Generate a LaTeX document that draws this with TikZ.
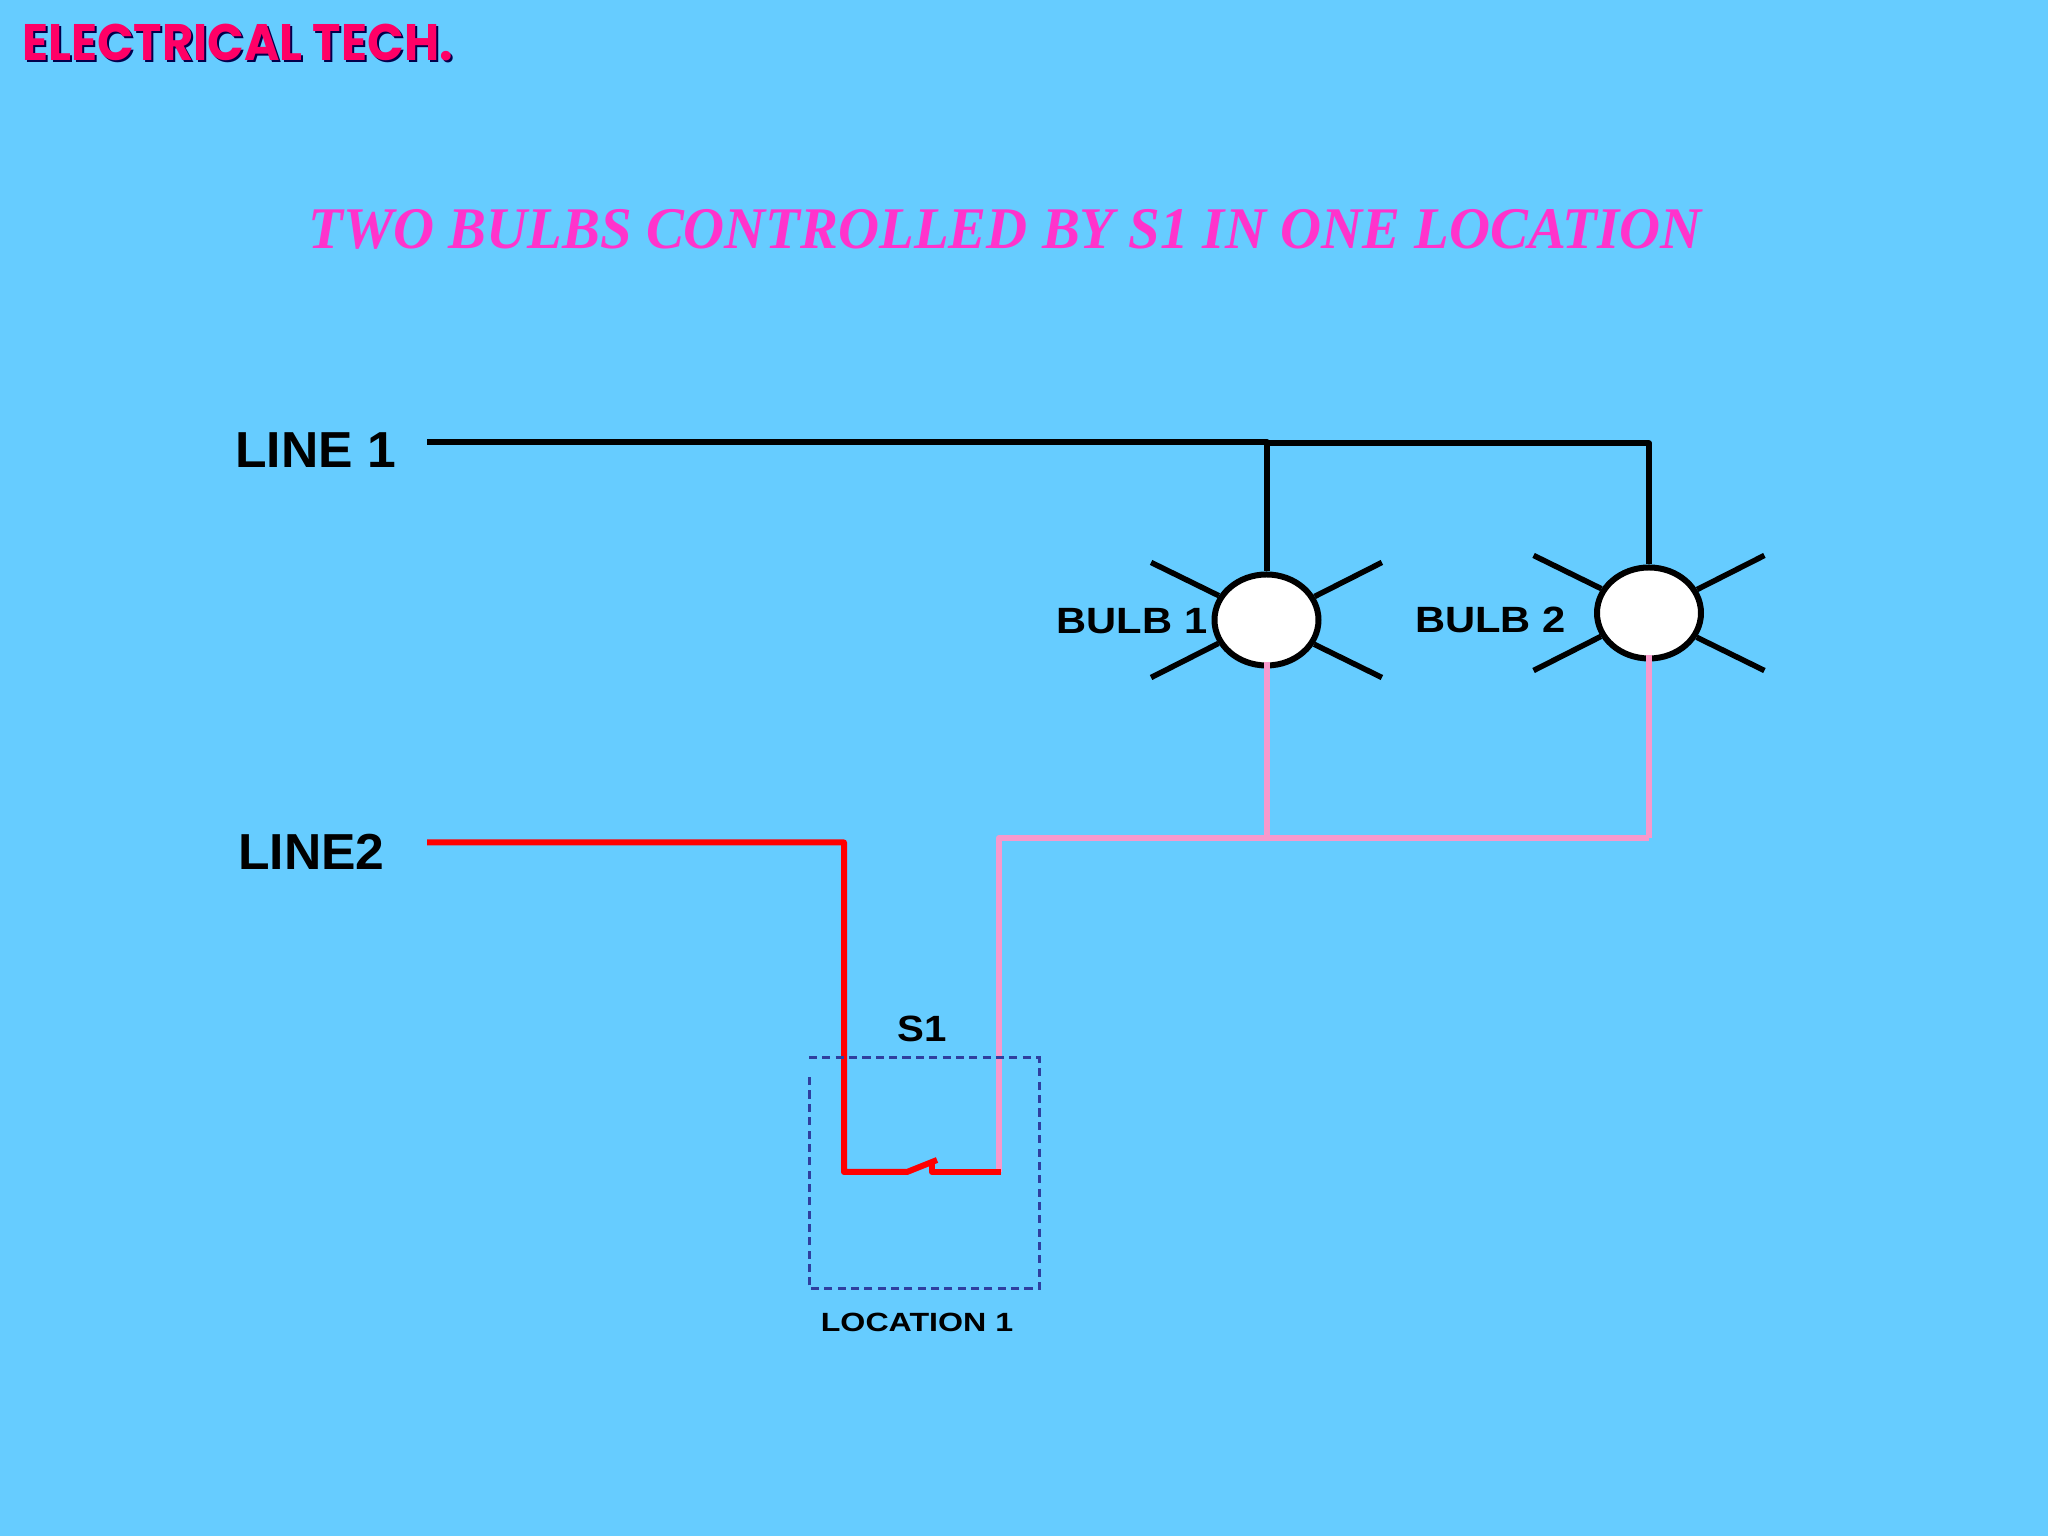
\documentclass[tikz,border=0pt]{standalone}
\usepackage{fontspec}
\setmainfont{Liberation Sans}
\newfontfamily\headfont{Poppins}
\newfontfamily\titlefont{Liberation Serif}
\usetikzlibrary{shapes.geometric, calc}
\definecolor{skybg}{HTML}{66CCFF}
\definecolor{headpink}{HTML}{FF0066}
\definecolor{titlepink}{HTML}{FF33CC}
\definecolor{wirepink}{HTML}{F899CC}
\definecolor{boxblue}{HTML}{2F3F9F}
\tikzset{
	label line/.style = {font = {\bfseries\fontsize{14.4pt}{16}\selectfont}, inner sep = 0pt, transform shape, xscale = 1.02},
	label bulb/.style = {font = {\bfseries\fontsize{10.4pt}{12}\selectfont}, inner sep = 0pt, transform shape, xscale = 1.14},
	label head/.style = {font = {\headfont\bfseries\fontsize{14.6pt}{16}\selectfont}, inner sep = 0pt, transform shape, xscale = 0.937},
	bulb/.style = {draw, ellipse, fill = white, line width = 0.06cm, inner sep = 0pt, minimum width = 1.04cm, minimum height = 0.91cm},
	ray/.style = {line width = 0.055cm},
	black wire/.style = {line width = 0.06cm, line join = round},
	pink wire/.style = {wirepink, line width = 0.06cm, line join = round},
	red wire/.style = {red, line width = 0.06cm, line join = round},
}
\begin{document}
\begin{tikzpicture}
\fill[skybg] (0,0) rectangle (20.48,15.36);
\useasboundingbox (0,0) rectangle (20.48,15.36);

\node[label head, text = black!70!blue] (HEADSH) at (2.395, 14.915) {ELECTRICAL TECH.};
\node[label head, text = headpink] (HEAD) at (2.375, 14.935) {ELECTRICAL TECH.};
\node[inner sep = 0pt, text = titlepink, transform shape, xscale = 0.962, font = {\titlefont\bfseries\itshape\fontsize{16.8pt}{20}\selectfont}] (TITLE) at (10.05, 13.07) {TWO BULBS CONTROLLED BY S1 IN ONE LOCATION};

\node[label line] (LINEA) at (3.155, 10.86) {LINE 1};
\node[label line] (LINEB) at (3.115, 6.84) {LINE2};

\node[bulb] (BULBA) at (12.665, 9.16) {};
\node[bulb] (BULBB) at (16.49, 9.23) {};
\node[label bulb] (BULBATXT) at (11.32, 9.15) {BULB 1};
\node[label bulb] (BULBBTXT) at (14.905, 9.16) {BULB 2};

\foreach \a in {26.5, 153.5, 206.5, 333.5} {
	\draw[ray] (BULBA.\a) -- ($(BULBA.center) + (\a:1.29cm)$);
	\draw[ray] (BULBB.\a) -- ($(BULBB.center) + (\a:1.29cm)$);
}

\coordinate (LA) at (4.27, 10.94);
\coordinate (JA) at (12.665, 10.94);
\coordinate (JB) at (12.665, 10.925);
\coordinate (CB) at (16.49, 10.925);
\draw[black wire] (LA) -- (JA) -- (BULBA.north);
\draw[black wire] (JB) -- (CB) -- (BULBB.north);

\coordinate (JP) at (12.665, 6.98);
\coordinate (CP) at (16.49, 6.98);
\coordinate (TP) at (9.99, 6.98);
\coordinate (BP) at (9.99, 3.64);
\draw[pink wire] (BP) -- (TP) -- (JP) -- (CP);
\draw[pink wire, shorten <= -0.06cm] (BULBA.south) -- (JP);
\draw[pink wire, shorten <= -0.06cm] (BULBB.south) -- (CP);

\coordinate (LB) at (4.27, 6.935);
\coordinate (CR) at (8.44, 6.935);
\coordinate (SA) at (8.44, 3.64);
\coordinate (SB) at (9.07, 3.64);
\coordinate (SC) at (9.37, 3.76);
\coordinate (SD) at (9.32, 3.73);
\coordinate (SE) at (9.32, 3.64);
\coordinate (SF) at (10.01, 3.64);
\draw[red wire] (LB) -- (CR) -- (SA) -- (SB) -- (SC);
\draw[red wire] (SD) -- (SE) -- (SF);

% box is open at the top left corner
\coordinate (BXA) at (8.09, 4.78);
\coordinate (BXB) at (10.39, 4.78);
\coordinate (BXC) at (10.39, 2.47);
\coordinate (BXD) at (8.09, 2.47);
\coordinate (BXE) at (8.09, 4.59);
\draw[boxblue, line width = 0.03cm, dash pattern = on 2.3pt off 1.5pt] (BXA) -- (BXB) -- (BXC) -- (BXD) -- (BXE);

\node[label bulb, xscale = 0.965] (SWTXT) at (9.225, 5.07) {S1};
\node[label bulb, xscale = 1.07, font = {\bfseries\fontsize{7.5pt}{9}\selectfont}] (LOCTXT) at (9.17, 2.14) {LOCATION 1};
\end{tikzpicture}
\end{document}
